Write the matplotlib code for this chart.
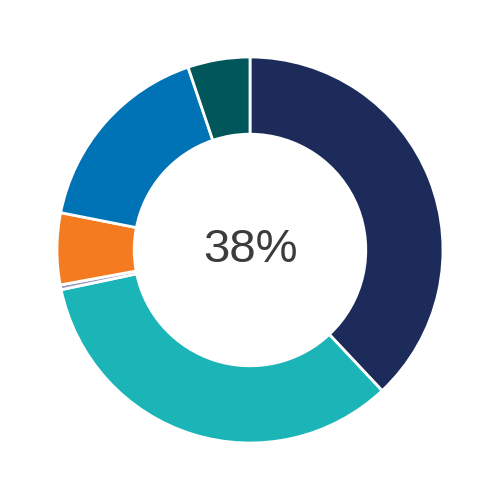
import matplotlib.pyplot as plt

# shares, clockwise from 12 o'clock
labels = ['Navy', 'Teal', 'Grey', 'Orange', 'Blue', 'Dark teal']
values = [38.0, 33.7, 0.4, 6.0, 16.7, 5.2]
colors = ['#1c2b5a', '#1bb5b7', '#9a9cb8', '#f47b20', '#0073b7', '#00575b']
center_label = '38%'

plt.rcParams['font.family'] = ['Liberation Sans', 'DejaVu Sans']

fig = plt.figure(figsize=(5, 5), dpi=100)
ax = fig.add_axes([0, 0, 1, 1])

ax.pie(values, colors=colors, startangle=90, counterclock=False,
       radius=1.0,
       wedgeprops=dict(width=0.4, edgecolor='white', linewidth=2))

ax.text(0, 0, center_label, ha='center', va='center', fontsize=34, color='#3c3c3c')

lim = 250 / 193
ax.set_xlim(-lim, lim)
ax.set_ylim(-lim, lim)
ax.set_aspect('equal')
ax.axis('off')

fig.savefig('out.png', dpi=100, facecolor='white')
